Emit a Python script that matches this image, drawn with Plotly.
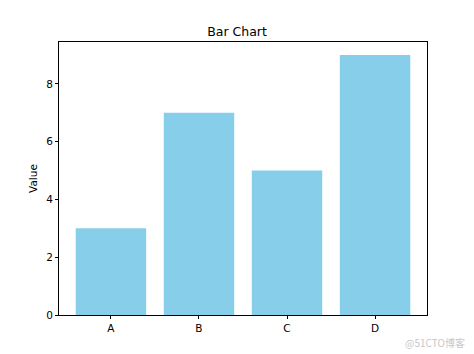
import plotly.graph_objects as go

categories = ["A", "B", "C", "D"]
values = [3, 7, 5, 9]
y_ticks = [0, 2, 4, 6, 8]

fig = go.Figure()
fig.add_trace(go.Bar(x=list(range(len(categories))), y=values, width=0.8,
                     marker=dict(color="#87CEEB", line=dict(width=0))))

axis_common = dict(showline=True, linecolor="black", linewidth=1, mirror=True,
                   ticks="outside", ticklen=3, tickcolor="black", tickwidth=1,
                   showgrid=False, zeroline=False,
                   tickfont=dict(family="DejaVu Sans", size=10.5, color="black"))

fig.update_layout(
    width=474, height=354,
    margin=dict(l=59, r=47, t=42, b=39),
    plot_bgcolor="white", paper_bgcolor="white",
    showlegend=False,
    title=dict(text="Bar Chart", x=0.5, xanchor="center", y=1 - 36 / 354, yanchor="bottom",
               font=dict(family="DejaVu Sans", size=12.5, color="black")),
    xaxis=dict(range=[-0.59, 3.59], tickvals=list(range(len(categories))),
               ticktext=categories, **axis_common),
    yaxis=dict(range=[0, 9.45], tickvals=y_ticks, ticktext=[str(t) for t in y_ticks],
               title=dict(text="Value", font=dict(family="DejaVu Sans", size=10.5, color="black"),
                          standoff=6),
               **axis_common),
)

fig.add_annotation(text="@51CTO博客", xref="paper", yref="paper", x=1.11, y=-0.1,
                   xanchor="right", yanchor="middle", showarrow=False,
                   font=dict(family="Noto Sans CJK SC", size=10, color="#c8c8c8"))

fig.write_html("out.html")
